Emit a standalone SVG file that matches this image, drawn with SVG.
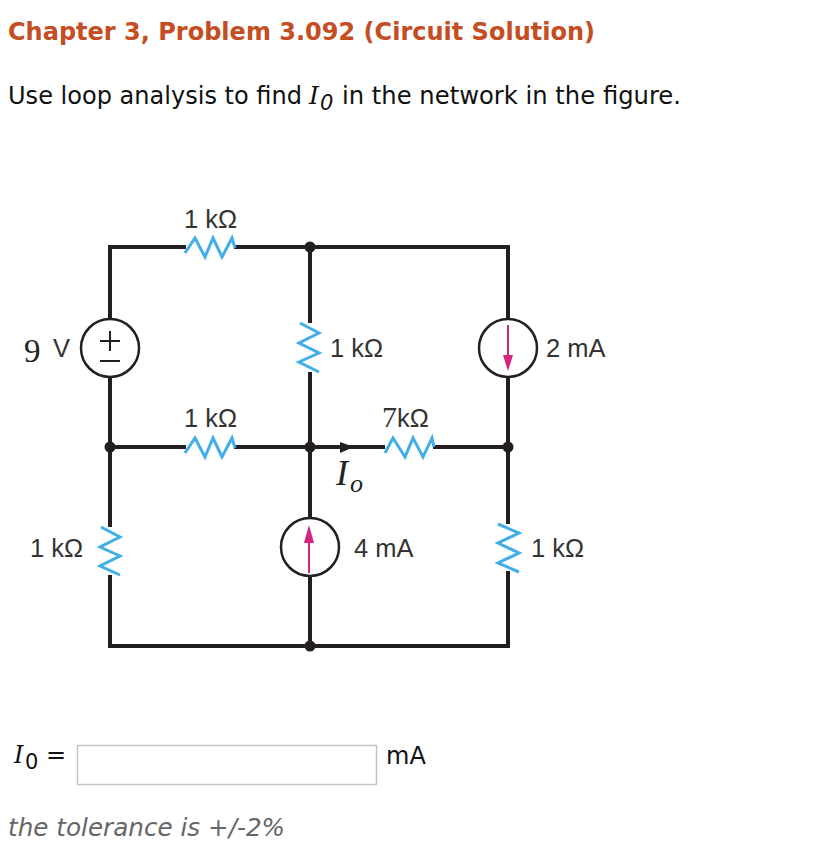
<svg xmlns="http://www.w3.org/2000/svg" width="814" height="860" viewBox="0 0 814 860">
<style>
.w{fill:none;stroke:#231f20;stroke-width:4}
.r{fill:none;stroke:#42aee8;stroke-width:3}
.c{fill:#fff;stroke:#231f20;stroke-width:2.500}
.p{stroke:#d6237f;stroke-width:2;fill:none}
.pf{fill:#d6237f}
.d{fill:#231f20}
.l{font-family:"Liberation Sans",Arial,sans-serif;font-size:25.500px;fill:#333}
.s{font-family:"Liberation Serif",serif;fill:#222}
.t{font-family:"DejaVu Sans",Verdana,sans-serif;fill:#111}
</style>
<rect width="814" height="860" fill="#fff"/>
<text class="t" x="8" y="39.500" font-size="25" font-weight="700" style="fill:#c44d22" textLength="587" lengthAdjust="spacingAndGlyphs">Chapter 3, Problem 3.092 (Circuit Solution)</text>
<text class="t" x="8" y="103.500" font-size="25" textLength="294" lengthAdjust="spacingAndGlyphs">Use loop analysis to find</text>
<text class="t" x="309" y="103.500" font-size="25" font-style="italic" style="font-family:'DejaVu Serif',serif">I</text>
<text class="t" x="320" y="109.500" font-size="21" font-style="italic">0</text>
<text class="t" x="342" y="103.500" font-size="25" textLength="339" lengthAdjust="spacingAndGlyphs">in the network in the figure.</text>
<g id="connectors">
<path class="w" d="M110 330V247H186M234 247H508V330M310 247V323M310 372V530M310 576V646M110 376V527M110 447H186M234 447H385M433 447H508M508 376V524M508 571V646H110V575"/>
<path class="d" d="M340 442l14 5-14 6z"/>
</g>
<g id="junctions" class="d">
<circle cx="310" cy="247" r="5.500"/><circle cx="110" cy="447" r="5.500"/><circle cx="310" cy="447" r="5.500"/><circle cx="508" cy="447" r="5.500"/><circle cx="310" cy="646" r="5.500"/>
</g>
<g id="r-top"><path class="r" d="M185 253L195 238 L205 257 L213 238 L222 257 L232 238 L235 248"/><text class="l" x="184" y="228">1 kΩ</text></g>
<g id="r-mid"><path class="r" d="M185 453L195 438 L205 457 L213 438 L222 457 L232 438 L235 448"/><text class="l" x="184" y="427">1 kΩ</text></g>
<g id="r-center"><path class="r" d="M300 323L319 333 L299 343 L319 353 L299 362 L319 372"/><text class="l" x="330" y="357">1 kΩ</text></g>
<g id="r-7k"><path class="r" d="M385 453L393 438 L405 457 L413 438 L423 457 L432 438 L434 447"/><text class="l" x="382" y="427"><tspan font-family="Liberation Serif" font-size="30">7</tspan>kΩ</text></g>
<g id="r-left"><path class="r" d="M101 527L120 537 L100 547 L120 556 L100 566 L120 575"/><text class="l" x="30" y="557">1 kΩ</text></g>
<g id="r-right"><path class="r" d="M498 524L519 533 L498 543 L519 553 L498 563 L519 572"/><text class="l" x="531" y="557">1 kΩ</text></g>
<g id="v-source"><circle class="c" cx="110" cy="348" r="29"/><path d="M110 331V351M100 341H120M100 361H120" fill="none" stroke="#231f20" stroke-width="2"/><text class="s" x="24" y="362" font-size="33">9</text><text class="l" x="53" y="357">V</text></g>
<g id="i-2ma"><circle class="c" cx="508" cy="348" r="29"/><path class="p" d="M508 325V358"/><path class="pf" d="M503 355H513L508 371z"/><text class="l" x="546" y="357">2 mA</text></g>
<g id="i-4ma"><circle class="c" cx="310" cy="547" r="29"/><path class="p" d="M309 573V540"/><path class="pf" d="M304 543H314L309 525z"/><text class="l" x="354" y="557">4 mA</text></g>
<g id="io-label"><text class="s" x="336" y="485" font-size="36" font-style="italic">I</text><text class="s" x="350" y="492" font-size="26" font-style="italic">o</text></g>
<g id="answer">
<text class="t" x="14" y="763" font-size="24" style="font-family:'DejaVu Serif',serif" font-style="italic">I</text>
<text class="t" x="25" y="769" font-size="21">0</text>
<text class="t" x="46" y="763" font-size="24">=</text>
<rect x="77.500" y="745.500" width="299" height="39" fill="#fff" stroke="#c4c4c4" stroke-width="1.500"/>
<text class="t" x="386" y="764" font-size="24">mA</text>
<text class="t" x="8" y="835.500" font-size="25" font-style="italic" style="fill:#666" textLength="277" lengthAdjust="spacingAndGlyphs">the tolerance is +/-2%</text>
</g>
</svg>
